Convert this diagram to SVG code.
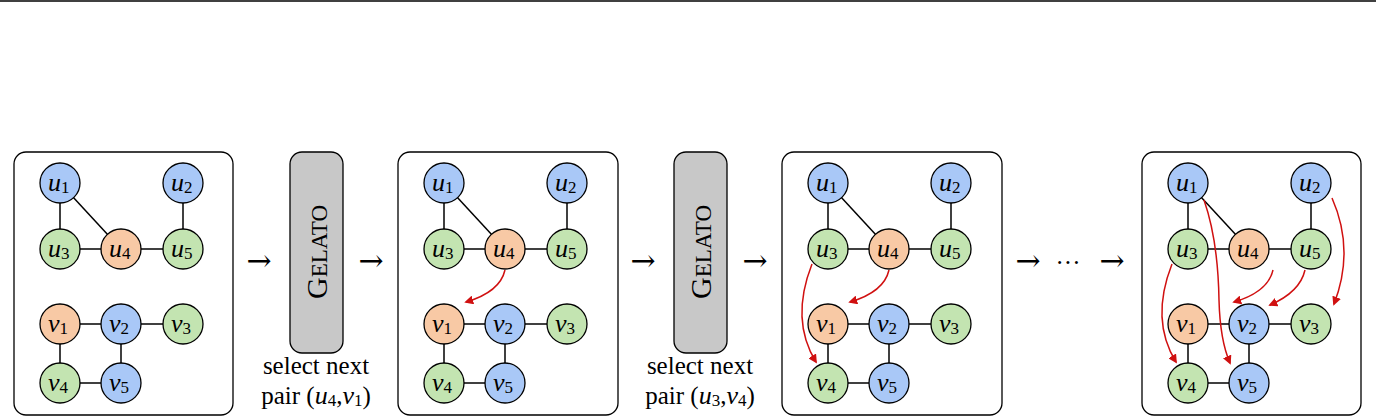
<svg xmlns="http://www.w3.org/2000/svg" xmlns:xlink="http://www.w3.org/1999/xlink" width="1376" height="420" viewBox="0 0 1376 420">
<style>
.box{fill:#fff;stroke:#000;stroke-width:1.3}
.gel{fill:#c8c8c8;stroke:#000;stroke-width:1.3}
.e{stroke:#000;stroke-width:1.5}
.n{stroke:#000;stroke-width:1.3}
.b{fill:#a9c8f7}.g{fill:#c3e4b1}.o{fill:#f8c9a5}
.t{font-family:"Liberation Serif",serif;font-size:25px;text-anchor:middle}
.a{font-family:"DejaVu Serif",serif;font-size:30px;text-anchor:middle}
.m{font-family:"Liberation Serif",serif;font-style:italic;font-size:26px}
.s{font-style:normal;font-size:17px}
.r{fill:none;stroke:#d01010;stroke-width:1.5;marker-end:url(#ah)}
</style>
<defs>
<marker id="ah" viewBox="0 0 10 10" refX="8" refY="5" markerWidth="6" markerHeight="6" orient="auto"><path d="M0,0 L10,5 L0,10 z" fill="#d01010"/></marker>
<g id="graph">
<g id="edges">
<line class="e" x1="60" y1="183" x2="60" y2="249"/>
<line class="e" x1="60" y1="183" x2="121" y2="249"/>
<line class="e" x1="183" y1="183" x2="183" y2="249"/>
<line class="e" x1="60" y1="249" x2="183" y2="249"/>
<line class="e" x1="60" y1="324" x2="183" y2="324"/>
<line class="e" x1="60" y1="324" x2="60" y2="383"/>
<line class="e" x1="121" y1="324" x2="121" y2="383"/>
<line class="e" x1="60" y1="383" x2="121" y2="383"/>
</g>
<g id="u1"><circle class="n b" cx="60" cy="183" r="20"/><text class="m" x="48" y="191">u<tspan class="s" dy="2">1</tspan></text></g>
<g id="u2"><circle class="n b" cx="183" cy="183" r="20"/><text class="m" x="171" y="191">u<tspan class="s" dy="2">2</tspan></text></g>
<g id="u3"><circle class="n g" cx="60" cy="249" r="20"/><text class="m" x="48" y="257">u<tspan class="s" dy="2">3</tspan></text></g>
<g id="u4"><circle class="n o" cx="121" cy="249" r="20"/><text class="m" x="109" y="257">u<tspan class="s" dy="2">4</tspan></text></g>
<g id="u5"><circle class="n g" cx="183" cy="249" r="20"/><text class="m" x="171" y="257">u<tspan class="s" dy="2">5</tspan></text></g>
<g id="v1"><circle class="n o" cx="60" cy="324" r="20"/><text class="m" x="48" y="332">v<tspan class="s" dy="2">1</tspan></text></g>
<g id="v2"><circle class="n b" cx="121" cy="324" r="20"/><text class="m" x="109" y="332">v<tspan class="s" dy="2">2</tspan></text></g>
<g id="v3"><circle class="n g" cx="183" cy="324" r="20"/><text class="m" x="171" y="332">v<tspan class="s" dy="2">3</tspan></text></g>
<g id="v4"><circle class="n g" cx="60" cy="383" r="20"/><text class="m" x="48" y="391">v<tspan class="s" dy="2">4</tspan></text></g>
<g id="v5"><circle class="n b" cx="121" cy="383" r="20"/><text class="m" x="109" y="391">v<tspan class="s" dy="2">5</tspan></text></g>
</g>
</defs>
<line x1="0" y1="1" x2="1376" y2="1" stroke="#000" stroke-width="1.3"/>
<g id="panel1"><rect class="box" x="14" y="152" width="219" height="263" rx="12"/><use xlink:href="#graph"/></g>
<g id="panel2"><rect class="box" x="398" y="152" width="220" height="263" rx="12"/><use xlink:href="#graph" x="384"/></g>
<g id="panel3"><rect class="box" x="782" y="152" width="220" height="263" rx="12"/><use xlink:href="#graph" x="768"/></g>
<g id="panel4"><rect class="box" x="1142" y="152" width="219" height="263" rx="12"/><use xlink:href="#graph" x="1128"/></g>
<g id="gelato1"><rect class="gel" x="290" y="152" width="53" height="201" rx="12"/>
<text class="t" transform="translate(327,252) rotate(-90)" style="font-size:30px">G<tspan style="font-size:23px">ELATO</tspan></text></g>
<g id="gelato2"><rect class="gel" x="674" y="152" width="53" height="201" rx="12"/>
<text class="t" transform="translate(711,252) rotate(-90)" style="font-size:30px">G<tspan style="font-size:23px">ELATO</tspan></text></g>
<g id="labels">
<text class="t" x="316" y="374">select next</text>
<text class="t" x="316" y="404">pair (<tspan class="m">u</tspan><tspan class="s" dy="2">4</tspan><tspan dy="-2">,</tspan><tspan class="m">v</tspan><tspan class="s" dy="2">1</tspan><tspan dy="-2">)</tspan></text>
<text class="t" x="700" y="374">select next</text>
<text class="t" x="700" y="404">pair (<tspan class="m">u</tspan><tspan class="s" dy="2">3</tspan><tspan dy="-2">,</tspan><tspan class="m">v</tspan><tspan class="s" dy="2">4</tspan><tspan dy="-2">)</tspan></text>
<text class="a" x="259" y="271">→</text>
<text class="a" x="371" y="271">→</text>
<text class="a" x="643" y="271">→</text>
<text class="a" x="755" y="271">→</text>
<text class="a" x="1028" y="271">→</text>
<text class="t" x="1068" y="271">···</text>
<text class="a" x="1112" y="271">→</text>
</g>
<g id="connectors">
<path class="r" d="M505,270 Q500,292 466,302"/>
<path class="r" d="M889,270 Q884,292 850,302"/>
<path class="r" d="M812,264 Q790,320 816,362"/>
<path class="r" d="M1273,270 Q1268,292 1234,302"/>
<path class="r" d="M1305,270 Q1300,292 1270,305"/>
<path class="r" d="M1172,264 Q1150,320 1176,362"/>
<path class="r" d="M1332,198 Q1355,250 1334,304"/>
<path class="r" d="M1204,200 Q1218,240 1219,300 Q1220,340 1230,363"/>
</g>
</svg>
